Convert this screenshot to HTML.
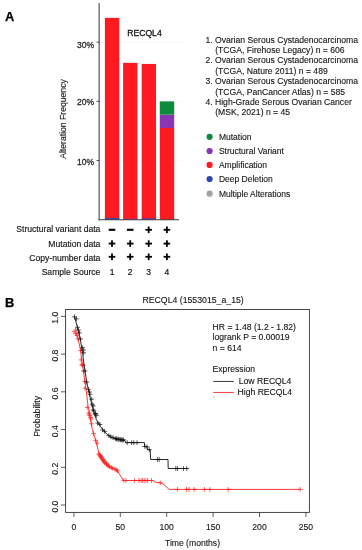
<!DOCTYPE html>
<html lang="en"><head><meta charset="utf-8"><title>RECQL4 alteration frequency and survival</title>
<style>html,body{margin:0;padding:0;background:#fff;}body{width:362px;height:550px;overflow:hidden;}svg{display:block;}text{font-family:"Liberation Sans", sans-serif;}.t{fill:#141414;stroke:#141414;stroke-width:0.11px;}.g{fill:#262626;stroke:#262626;stroke-width:0.15px;}</style>
</head><body>
<svg width="362" height="550" viewBox="0 0 362 550">
<rect x="0" y="0" width="362" height="550" fill="#ffffff"/>
<text x="4.9" y="20.9" font-size="12.9" font-weight="bold" fill="#000" stroke="#000" stroke-width="0.25">A</text>
<line x1="99.5" y1="160.55" x2="182" y2="160.55" stroke="#ececec" stroke-width="0.7" stroke-dasharray="3 2"/>
<line x1="99.5" y1="101.35" x2="182" y2="101.35" stroke="#ececec" stroke-width="0.7" stroke-dasharray="3 2"/>
<line x1="99.5" y1="42.15" x2="182" y2="42.15" stroke="#ececec" stroke-width="0.7" stroke-dasharray="3 2"/>
<rect x="104.90" y="17.88" width="14.40" height="201.87" fill="#ff1a22"/>
<rect x="123.10" y="62.87" width="14.40" height="156.88" fill="#ff1a22"/>
<rect x="141.70" y="63.94" width="14.30" height="155.81" fill="#ff1a22"/>
<rect x="159.80" y="128.00" width="14.40" height="91.75" fill="#ff1a22"/>
<rect x="159.80" y="114.70" width="14.40" height="13.30" fill="#8c35b2"/>
<rect x="159.80" y="101.40" width="14.40" height="13.30" fill="#0d8a3b"/>
<line x1="99.15" y1="3" x2="99.15" y2="220.15" stroke="#505050" stroke-width="1.15"/>
<line x1="98.5" y1="219.75" x2="179" y2="219.75" stroke="#3a3a3a" stroke-width="1.0"/>
<rect x="104.90" y="218.05" width="14.40" height="1.30" fill="#2a48b4"/>
<rect x="123.10" y="218.85" width="14.40" height="0.50" fill="#2a48b4"/>
<rect x="141.70" y="218.35" width="14.30" height="1.00" fill="#2a48b4"/>
<line x1="96.6" y1="42.15" x2="99.1" y2="42.15" stroke="#333" stroke-width="0.9"/>
<text class="g" x="94.1" y="47.85" font-size="8.55" text-anchor="end" style="stroke-width:0.28px">30%</text>
<line x1="96.6" y1="101.35" x2="99.1" y2="101.35" stroke="#333" stroke-width="0.9"/>
<text class="g" x="94.1" y="105.45" font-size="8.55" text-anchor="end" style="stroke-width:0.28px">20%</text>
<line x1="96.6" y1="160.55" x2="99.1" y2="160.55" stroke="#333" stroke-width="0.9"/>
<text class="g" x="94.1" y="164.65" font-size="8.55" text-anchor="end" style="stroke-width:0.28px">10%</text>
<text class="g" transform="translate(65.6,119.0) rotate(-90)" font-size="8.65" text-anchor="middle">Alteration Frequency</text>
<text class="t" x="127.2" y="36.3" font-size="8.65" style="stroke-width:0.3px">RECQL4</text>
<text class="t" x="100.4" y="231.60" font-size="8.6" text-anchor="end" style="stroke-width:0.15px">Structural variant data</text>
<rect x="108.70" y="228.75" width="6.6" height="2.1" fill="#000"/>
<rect x="126.90" y="228.75" width="6.6" height="2.1" fill="#000"/>
<rect x="145.40" y="228.90" width="6.6" height="1.8" fill="#000"/>
<rect x="147.80" y="226.50" width="1.8" height="6.6" fill="#000"/>
<rect x="163.60" y="228.90" width="6.6" height="1.8" fill="#000"/>
<rect x="166.00" y="226.50" width="1.8" height="6.6" fill="#000"/>
<text class="t" x="100.4" y="246.90" font-size="8.6" text-anchor="end" style="stroke-width:0.15px">Mutation data</text>
<rect x="108.70" y="242.70" width="6.6" height="1.8" fill="#000"/>
<rect x="111.10" y="240.30" width="1.8" height="6.6" fill="#000"/>
<rect x="126.90" y="242.70" width="6.6" height="1.8" fill="#000"/>
<rect x="129.30" y="240.30" width="1.8" height="6.6" fill="#000"/>
<rect x="145.40" y="242.70" width="6.6" height="1.8" fill="#000"/>
<rect x="147.80" y="240.30" width="1.8" height="6.6" fill="#000"/>
<rect x="163.60" y="242.70" width="6.6" height="1.8" fill="#000"/>
<rect x="166.00" y="240.30" width="1.8" height="6.6" fill="#000"/>
<text class="t" x="100.4" y="260.80" font-size="8.6" text-anchor="end" style="stroke-width:0.15px">Copy-number data</text>
<rect x="108.70" y="255.90" width="6.6" height="1.8" fill="#000"/>
<rect x="111.10" y="253.50" width="1.8" height="6.6" fill="#000"/>
<rect x="126.90" y="255.90" width="6.6" height="1.8" fill="#000"/>
<rect x="129.30" y="253.50" width="1.8" height="6.6" fill="#000"/>
<rect x="145.40" y="255.90" width="6.6" height="1.8" fill="#000"/>
<rect x="147.80" y="253.50" width="1.8" height="6.6" fill="#000"/>
<rect x="163.60" y="255.90" width="6.6" height="1.8" fill="#000"/>
<rect x="166.00" y="253.50" width="1.8" height="6.6" fill="#000"/>
<text class="t" x="100.4" y="275.3" font-size="8.6" text-anchor="end" style="stroke-width:0.15px">Sample Source</text>
<text class="t" x="112.00" y="275.0" font-size="8.5" text-anchor="middle" style="stroke-width:0.2px">1</text>
<text class="t" x="130.20" y="275.0" font-size="8.5" text-anchor="middle" style="stroke-width:0.2px">2</text>
<text class="t" x="148.70" y="275.0" font-size="8.5" text-anchor="middle" style="stroke-width:0.2px">3</text>
<text class="t" x="166.90" y="275.0" font-size="8.5" text-anchor="middle" style="stroke-width:0.2px">4</text>
<text class="t" x="205.40" y="42.50" font-size="8.62">1. Ovarian Serous Cystadenocarcinoma</text>
<text class="t" x="215.20" y="52.92" font-size="8.62">(TCGA, Firehose Legacy) n = 606</text>
<text class="t" x="205.40" y="63.34" font-size="8.62">2. Ovarian Serous Cystadenocarcinoma</text>
<text class="t" x="215.20" y="73.76" font-size="8.62">(TCGA, Nature 2011) n = 489</text>
<text class="t" x="205.40" y="84.18" font-size="8.62">3. Ovarian Serous Cystadenocarcinoma</text>
<text class="t" x="215.20" y="94.60" font-size="8.62">(TCGA, PanCancer Atlas) n = 585</text>
<text class="t" x="205.40" y="105.02" font-size="8.62">4. High-Grade Serous Ovarian Cancer</text>
<text class="t" x="215.20" y="115.44" font-size="8.62">(MSK, 2021) n = 45</text>
<circle cx="209.6" cy="136.80" r="3.1" fill="#0d8a3b"/>
<text class="t" x="218.9" y="139.90" font-size="8.5">Mutation</text>
<circle cx="209.6" cy="151.00" r="3.1" fill="#8c35b2"/>
<text class="t" x="218.9" y="154.10" font-size="8.5">Structural Variant</text>
<circle cx="209.6" cy="164.90" r="3.1" fill="#ff1a22"/>
<text class="t" x="218.9" y="168.00" font-size="8.5">Amplification</text>
<circle cx="209.6" cy="179.00" r="3.1" fill="#2a48b4"/>
<text class="t" x="218.9" y="182.10" font-size="8.5">Deep Deletion</text>
<circle cx="209.6" cy="193.70" r="3.1" fill="#a3a3a3"/>
<text class="t" x="218.9" y="196.80" font-size="8.5">Multiple Alterations</text>
<text x="4.9" y="307" font-size="12.9" font-weight="bold" fill="#000" stroke="#000" stroke-width="0.25">B</text>
<text class="t" x="193.1" y="303.1" font-size="8.72" text-anchor="middle">RECQL4 (1553015_a_15)</text>
<rect x="65.60" y="309.50" width="243.80" height="202.90" fill="none" stroke="#333" stroke-width="0.9"/>
<line x1="60.90" y1="505.00" x2="65.60" y2="505.00" stroke="#333" stroke-width="0.8"/>
<text class="t" transform="translate(57.60,506.60) rotate(-90)" font-size="8.65" text-anchor="middle">0.0</text>
<line x1="60.90" y1="467.28" x2="65.60" y2="467.28" stroke="#333" stroke-width="0.8"/>
<text class="t" transform="translate(57.60,468.78) rotate(-90)" font-size="8.65" text-anchor="middle">0.2</text>
<line x1="60.90" y1="429.56" x2="65.60" y2="429.56" stroke="#333" stroke-width="0.8"/>
<text class="t" transform="translate(57.60,431.26) rotate(-90)" font-size="8.65" text-anchor="middle">0.4</text>
<line x1="60.90" y1="391.84" x2="65.60" y2="391.84" stroke="#333" stroke-width="0.8"/>
<text class="t" transform="translate(57.60,393.54) rotate(-90)" font-size="8.65" text-anchor="middle">0.6</text>
<line x1="60.90" y1="354.12" x2="65.60" y2="354.12" stroke="#333" stroke-width="0.8"/>
<text class="t" transform="translate(57.60,355.62) rotate(-90)" font-size="8.65" text-anchor="middle">0.8</text>
<line x1="60.90" y1="316.40" x2="65.60" y2="316.40" stroke="#333" stroke-width="0.8"/>
<text class="t" transform="translate(57.60,317.70) rotate(-90)" font-size="8.65" text-anchor="middle">1.0</text>
<line x1="73.90" y1="512.40" x2="73.90" y2="517.00" stroke="#333" stroke-width="0.8"/>
<text class="t" x="73.90" y="529.60" font-size="8.6" text-anchor="middle">0</text>
<line x1="120.30" y1="512.40" x2="120.30" y2="517.00" stroke="#333" stroke-width="0.8"/>
<text class="t" x="120.30" y="529.60" font-size="8.6" text-anchor="middle">50</text>
<line x1="166.70" y1="512.40" x2="166.70" y2="517.00" stroke="#333" stroke-width="0.8"/>
<text class="t" x="166.70" y="529.60" font-size="8.6" text-anchor="middle">100</text>
<line x1="213.10" y1="512.40" x2="213.10" y2="517.00" stroke="#333" stroke-width="0.8"/>
<text class="t" x="213.10" y="529.60" font-size="8.6" text-anchor="middle">150</text>
<line x1="259.50" y1="512.40" x2="259.50" y2="517.00" stroke="#333" stroke-width="0.8"/>
<text class="t" x="259.50" y="529.60" font-size="8.6" text-anchor="middle">200</text>
<line x1="305.90" y1="512.40" x2="305.90" y2="517.00" stroke="#333" stroke-width="0.8"/>
<text class="t" x="305.90" y="529.60" font-size="8.6" text-anchor="middle">250</text>
<text class="t" x="192.5" y="546.3" font-size="8.6" text-anchor="middle">Time (months)</text>
<text class="t" transform="translate(39.6,416.4) rotate(-90)" font-size="8.75" text-anchor="middle">Probability</text>
<polyline points="75.7,328.0 75.9,331.5 78.1,338.9 80.6,350.5 81.7,360.0 83.4,371.0 85.0,382.1 86.4,392.0 87.8,404.2 88.8,410.0 90.2,418.3 92.3,429.3 95.7,440.4 99.2,454.2 104.7,462.5 110.2,467.3 117.1,470.1 119.9,474.9 123.4,480.5 152.6,480.5 154.8,482.0 161.4,483.0 164.7,485.2 169.1,489.4 300.4,489.4" fill="none" stroke="#ff2020" stroke-width="0.9" stroke-linejoin="round"/>
<path d="M71.8 331.4h4.8M74.2 329.0v4.8" stroke="#ff2020" stroke-width="0.7" fill="none"/>
<path d="M73.2 333.6h4.8M75.6 331.2v4.8" stroke="#ff2020" stroke-width="0.7" fill="none"/>
<path d="M74.6 335.6h4.8M77.0 333.2v4.8" stroke="#ff2020" stroke-width="0.7" fill="none"/>
<path d="M75.7 338.9h4.8M78.1 336.5v4.8" stroke="#ff2020" stroke-width="0.7" fill="none"/>
<path d="M78.2 350.5h4.8M80.6 348.1v4.8" stroke="#ff2020" stroke-width="0.7" fill="none"/>
<path d="M78.7 359.9h4.8M81.1 357.5v4.8" stroke="#ff2020" stroke-width="0.7" fill="none"/>
<path d="M79.8 364.4h4.8M82.2 362.0v4.8" stroke="#ff2020" stroke-width="0.7" fill="none"/>
<path d="M80.9 365.5h4.8M83.3 363.1v4.8" stroke="#ff2020" stroke-width="0.7" fill="none"/>
<path d="M79.6 365.0h4.8M82.0 362.6v4.8" stroke="#ff2020" stroke-width="0.7" fill="none"/>
<path d="M81.0 371.0h4.8M83.4 368.6v4.8" stroke="#ff2020" stroke-width="0.7" fill="none"/>
<path d="M82.4 381.5h4.8M84.8 379.1v4.8" stroke="#ff2020" stroke-width="0.7" fill="none"/>
<path d="M82.6 388.2h4.8M85.0 385.8v4.8" stroke="#ff2020" stroke-width="0.7" fill="none"/>
<path d="M84.9 407.5h4.8M87.3 405.1v4.8" stroke="#ff2020" stroke-width="0.7" fill="none"/>
<path d="M86.5 414.1h4.8M88.9 411.7v4.8" stroke="#ff2020" stroke-width="0.7" fill="none"/>
<path d="M88.2 417.5h4.8M90.6 415.1v4.8" stroke="#ff2020" stroke-width="0.7" fill="none"/>
<path d="M86.8 412.8h4.8M89.2 410.4v4.8" stroke="#ff2020" stroke-width="0.7" fill="none"/>
<path d="M87.4 415.5h4.8M89.8 413.1v4.8" stroke="#ff2020" stroke-width="0.7" fill="none"/>
<path d="M88.5 419.0h4.8M90.9 416.6v4.8" stroke="#ff2020" stroke-width="0.7" fill="none"/>
<path d="M89.2 423.8h4.8M91.6 421.4v4.8" stroke="#ff2020" stroke-width="0.7" fill="none"/>
<path d="M91.0 433.5h4.8M93.4 431.1v4.8" stroke="#ff2020" stroke-width="0.7" fill="none"/>
<path d="M93.3 440.4h4.8M95.7 438.0v4.8" stroke="#ff2020" stroke-width="0.7" fill="none"/>
<path d="M94.7 443.1h4.8M97.1 440.7v4.8" stroke="#ff2020" stroke-width="0.7" fill="none"/>
<path d="M96.2 454.0h4.8M98.6 451.6v4.8" stroke="#ff2020" stroke-width="0.7" fill="none"/>
<path d="M97.2 454.8h4.8M99.6 452.4v4.8" stroke="#ff2020" stroke-width="0.7" fill="none"/>
<path d="M98.2 455.6h4.8M100.6 453.2v4.8" stroke="#ff2020" stroke-width="0.7" fill="none"/>
<path d="M98.0 456.4h4.8M100.4 454.0v4.8" stroke="#ff2020" stroke-width="0.7" fill="none"/>
<path d="M99.0 457.2h4.8M101.4 454.8v4.8" stroke="#ff2020" stroke-width="0.7" fill="none"/>
<path d="M98.8 458.0h4.8M101.2 455.6v4.8" stroke="#ff2020" stroke-width="0.7" fill="none"/>
<path d="M99.8 458.8h4.8M102.2 456.4v4.8" stroke="#ff2020" stroke-width="0.7" fill="none"/>
<path d="M100.9 459.6h4.8M103.3 457.2v4.8" stroke="#ff2020" stroke-width="0.7" fill="none"/>
<path d="M100.7 460.4h4.8M103.1 458.0v4.8" stroke="#ff2020" stroke-width="0.7" fill="none"/>
<path d="M101.7 461.2h4.8M104.1 458.8v4.8" stroke="#ff2020" stroke-width="0.7" fill="none"/>
<path d="M101.5 462.0h4.8M103.9 459.6v4.8" stroke="#ff2020" stroke-width="0.7" fill="none"/>
<path d="M102.6 462.8h4.8M105.0 460.4v4.8" stroke="#ff2020" stroke-width="0.7" fill="none"/>
<path d="M104.1 463.6h4.8M106.5 461.2v4.8" stroke="#ff2020" stroke-width="0.7" fill="none"/>
<path d="M104.2 464.4h4.8M106.6 462.0v4.8" stroke="#ff2020" stroke-width="0.7" fill="none"/>
<path d="M105.6 465.2h4.8M108.0 462.8v4.8" stroke="#ff2020" stroke-width="0.7" fill="none"/>
<path d="M105.8 466.0h4.8M108.2 463.6v4.8" stroke="#ff2020" stroke-width="0.7" fill="none"/>
<path d="M107.2 466.8h4.8M109.6 464.4v4.8" stroke="#ff2020" stroke-width="0.7" fill="none"/>
<path d="M109.0 467.6h4.8M111.4 465.2v4.8" stroke="#ff2020" stroke-width="0.7" fill="none"/>
<path d="M110.3 468.4h4.8M112.7 466.0v4.8" stroke="#ff2020" stroke-width="0.7" fill="none"/>
<path d="M112.7 469.2h4.8M115.1 466.8v4.8" stroke="#ff2020" stroke-width="0.7" fill="none"/>
<path d="M114.0 470.0h4.8M116.4 467.6v4.8" stroke="#ff2020" stroke-width="0.7" fill="none"/>
<path d="M115.1 470.8h4.8M117.5 468.4v4.8" stroke="#ff2020" stroke-width="0.7" fill="none"/>
<path d="M121.4 480.5h4.8M123.8 478.1v4.8" stroke="#ff2020" stroke-width="0.7" fill="none"/>
<path d="M123.6 480.5h4.8M126.0 478.1v4.8" stroke="#ff2020" stroke-width="0.7" fill="none"/>
<path d="M132.0 480.5h4.8M134.4 478.1v4.8" stroke="#ff2020" stroke-width="0.7" fill="none"/>
<path d="M136.5 480.5h4.8M138.9 478.1v4.8" stroke="#ff2020" stroke-width="0.7" fill="none"/>
<path d="M138.7 480.5h4.8M141.1 478.1v4.8" stroke="#ff2020" stroke-width="0.7" fill="none"/>
<path d="M140.2 480.5h4.8M142.6 478.1v4.8" stroke="#ff2020" stroke-width="0.7" fill="none"/>
<path d="M141.8 480.5h4.8M144.2 478.1v4.8" stroke="#ff2020" stroke-width="0.7" fill="none"/>
<path d="M143.5 480.5h4.8M145.9 478.1v4.8" stroke="#ff2020" stroke-width="0.7" fill="none"/>
<path d="M145.3 480.5h4.8M147.7 478.1v4.8" stroke="#ff2020" stroke-width="0.7" fill="none"/>
<path d="M149.1 480.5h4.8M151.5 478.1v4.8" stroke="#ff2020" stroke-width="0.7" fill="none"/>
<path d="M157.9 482.8h4.8M160.3 480.4v4.8" stroke="#ff2020" stroke-width="0.7" fill="none"/>
<path d="M175.0 489.4h4.8M177.4 487.0v4.8" stroke="#ff2020" stroke-width="0.7" fill="none"/>
<path d="M184.1 489.4h4.8M186.5 487.0v4.8" stroke="#ff2020" stroke-width="0.7" fill="none"/>
<path d="M186.6 489.4h4.8M189.0 487.0v4.8" stroke="#ff2020" stroke-width="0.7" fill="none"/>
<path d="M191.7 489.4h4.8M194.1 487.0v4.8" stroke="#ff2020" stroke-width="0.7" fill="none"/>
<path d="M202.0 489.4h4.8M204.4 487.0v4.8" stroke="#ff2020" stroke-width="0.7" fill="none"/>
<path d="M207.4 489.4h4.8M209.8 487.0v4.8" stroke="#ff2020" stroke-width="0.7" fill="none"/>
<path d="M225.8 489.4h4.8M228.2 487.0v4.8" stroke="#ff2020" stroke-width="0.7" fill="none"/>
<path d="M297.8 489.4h4.8M300.2 487.0v4.8" stroke="#ff2020" stroke-width="0.7" fill="none"/>
<polyline points="74.5,316.6 77.3,326.8 80.6,341.1 82.8,354.4 83.4,360.0 85.0,371.0 86.7,382.1 88.9,392.0 91.7,404.2 93.4,410.0 96.4,419.7 100.6,426.6 106.1,433.5 111.6,437.6 119.9,439.7 125.0,440.6 125.6,442.6 144.4,442.6 144.7,446.5 147.0,446.8 147.5,449.5 150.2,449.8 150.6,459.5 168.0,459.5 168.2,468.5 187.4,468.5" fill="none" stroke="#111" stroke-width="0.9" stroke-linejoin="round"/>
<path d="M72.1 316.8h4.8M74.5 314.4v4.8" stroke="#111" stroke-width="0.7" fill="none"/>
<path d="M74.0 318.8h4.8M76.4 316.4v4.8" stroke="#111" stroke-width="0.7" fill="none"/>
<path d="M75.1 327.3h4.8M77.5 324.9v4.8" stroke="#111" stroke-width="0.7" fill="none"/>
<path d="M76.0 330.1h4.8M78.4 327.7v4.8" stroke="#111" stroke-width="0.7" fill="none"/>
<path d="M77.1 332.9h4.8M79.5 330.5v4.8" stroke="#111" stroke-width="0.7" fill="none"/>
<path d="M78.2 338.9h4.8M80.6 336.5v4.8" stroke="#111" stroke-width="0.7" fill="none"/>
<path d="M80.2 347.8h4.8M82.6 345.4v4.8" stroke="#111" stroke-width="0.7" fill="none"/>
<path d="M80.9 350.0h4.8M83.3 347.6v4.8" stroke="#111" stroke-width="0.7" fill="none"/>
<path d="M81.3 352.8h4.8M83.7 350.4v4.8" stroke="#111" stroke-width="0.7" fill="none"/>
<path d="M82.6 371.0h4.8M85.0 368.6v4.8" stroke="#111" stroke-width="0.7" fill="none"/>
<path d="M84.3 382.1h4.8M86.7 379.7v4.8" stroke="#111" stroke-width="0.7" fill="none"/>
<path d="M86.0 389.3h4.8M88.4 386.9v4.8" stroke="#111" stroke-width="0.7" fill="none"/>
<path d="M87.1 392.0h4.8M89.5 389.6v4.8" stroke="#111" stroke-width="0.7" fill="none"/>
<path d="M87.6 394.3h4.8M90.0 391.9v4.8" stroke="#111" stroke-width="0.7" fill="none"/>
<path d="M89.3 399.2h4.8M91.7 396.8v4.8" stroke="#111" stroke-width="0.7" fill="none"/>
<path d="M89.8 404.2h4.8M92.2 401.8v4.8" stroke="#111" stroke-width="0.7" fill="none"/>
<path d="M90.9 405.9h4.8M93.3 403.5v4.8" stroke="#111" stroke-width="0.7" fill="none"/>
<path d="M91.5 410.8h4.8M93.9 408.4v4.8" stroke="#111" stroke-width="0.7" fill="none"/>
<path d="M93.1 413.6h4.8M95.5 411.2v4.8" stroke="#111" stroke-width="0.7" fill="none"/>
<path d="M94.3 415.2h4.8M96.7 412.8v4.8" stroke="#111" stroke-width="0.7" fill="none"/>
<path d="M90.6 410.0h4.8M93.0 407.6v4.8" stroke="#111" stroke-width="0.7" fill="none"/>
<path d="M92.6 414.1h4.8M95.0 411.7v4.8" stroke="#111" stroke-width="0.7" fill="none"/>
<path d="M95.4 423.1h4.8M97.8 420.7v4.8" stroke="#111" stroke-width="0.7" fill="none"/>
<path d="M97.5 424.5h4.8M99.9 422.1v4.8" stroke="#111" stroke-width="0.7" fill="none"/>
<path d="M100.2 430.0h4.8M102.6 427.6v4.8" stroke="#111" stroke-width="0.7" fill="none"/>
<path d="M102.3 431.4h4.8M104.7 429.0v4.8" stroke="#111" stroke-width="0.7" fill="none"/>
<path d="M106.5 435.6h4.8M108.9 433.2v4.8" stroke="#111" stroke-width="0.7" fill="none"/>
<path d="M108.5 436.9h4.8M110.9 434.5v4.8" stroke="#111" stroke-width="0.7" fill="none"/>
<path d="M110.6 437.6h4.8M113.0 435.2v4.8" stroke="#111" stroke-width="0.7" fill="none"/>
<path d="M113.4 438.7h4.8M115.8 436.3v4.8" stroke="#111" stroke-width="0.7" fill="none"/>
<path d="M114.7 439.3h4.8M117.1 436.9v4.8" stroke="#111" stroke-width="0.7" fill="none"/>
<path d="M116.8 439.3h4.8M119.2 436.9v4.8" stroke="#111" stroke-width="0.7" fill="none"/>
<path d="M118.9 439.7h4.8M121.3 437.3v4.8" stroke="#111" stroke-width="0.7" fill="none"/>
<path d="M121.0 439.7h4.8M123.4 437.3v4.8" stroke="#111" stroke-width="0.7" fill="none"/>
<path d="M113.7 438.7h4.8M116.1 436.3v4.8" stroke="#111" stroke-width="0.7" fill="none"/>
<path d="M115.9 439.3h4.8M118.3 436.9v4.8" stroke="#111" stroke-width="0.7" fill="none"/>
<path d="M118.1 439.8h4.8M120.5 437.4v4.8" stroke="#111" stroke-width="0.7" fill="none"/>
<path d="M120.3 440.2h4.8M122.7 437.8v4.8" stroke="#111" stroke-width="0.7" fill="none"/>
<path d="M124.8 442.6h4.8M127.2 440.2v4.8" stroke="#111" stroke-width="0.7" fill="none"/>
<path d="M129.2 442.6h4.8M131.6 440.2v4.8" stroke="#111" stroke-width="0.7" fill="none"/>
<path d="M131.4 442.6h4.8M133.8 440.2v4.8" stroke="#111" stroke-width="0.7" fill="none"/>
<path d="M134.7 442.6h4.8M137.1 440.2v4.8" stroke="#111" stroke-width="0.7" fill="none"/>
<path d="M142.4 446.5h4.8M144.8 444.1v4.8" stroke="#111" stroke-width="0.7" fill="none"/>
<path d="M144.6 446.8h4.8M147.0 444.4v4.8" stroke="#111" stroke-width="0.7" fill="none"/>
<path d="M146.9 449.7h4.8M149.3 447.3v4.8" stroke="#111" stroke-width="0.7" fill="none"/>
<path d="M155.0 459.5h4.8M157.4 457.1v4.8" stroke="#111" stroke-width="0.7" fill="none"/>
<path d="M156.8 459.5h4.8M159.2 457.1v4.8" stroke="#111" stroke-width="0.7" fill="none"/>
<path d="M173.4 468.5h4.8M175.8 466.1v4.8" stroke="#111" stroke-width="0.7" fill="none"/>
<path d="M175.1 468.5h4.8M177.5 466.1v4.8" stroke="#111" stroke-width="0.7" fill="none"/>
<path d="M181.1 468.5h4.8M183.5 466.1v4.8" stroke="#111" stroke-width="0.7" fill="none"/>
<path d="M184.4 468.5h4.8M186.8 466.1v4.8" stroke="#111" stroke-width="0.7" fill="none"/>
<text class="t" x="212.6" y="329.5" font-size="8.6">HR = 1.48 (1.2 - 1.82)</text>
<text class="t" x="212.6" y="340" font-size="8.6">logrank P = 0.00019</text>
<text class="t" x="212.6" y="351" font-size="8.6">n = 614</text>
<text class="t" x="212.6" y="372.3" font-size="8.6">Expression</text>
<line x1="213.3" y1="381.45" x2="233.8" y2="381.45" stroke="#222" stroke-width="0.9"/>
<line x1="213.3" y1="392.45" x2="233.8" y2="392.45" stroke="#ff2020" stroke-width="0.9"/>
<text class="t" x="238.7" y="384.1" font-size="8.65">Low RECQL4</text>
<text class="t" x="237.5" y="395.1" font-size="8.65">High RECQL4</text>
<rect x="213.6" y="396.4" width="0.9" height="0.9" fill="#ff2020"/>
</svg>
</body></html>
